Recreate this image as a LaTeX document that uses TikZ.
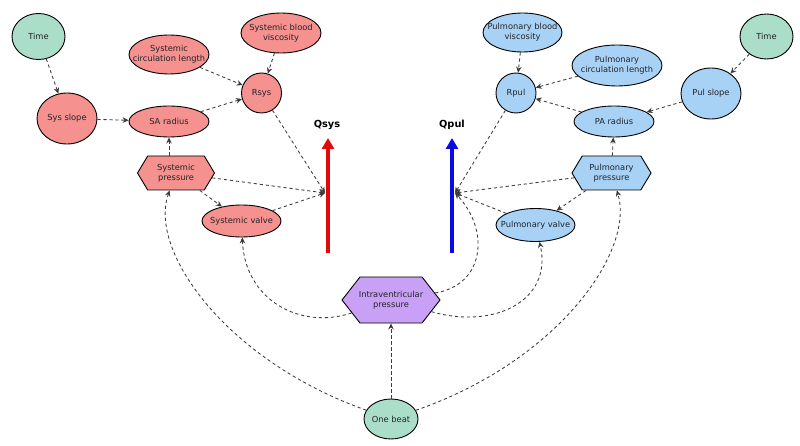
\documentclass[tikz,border=0pt]{standalone}
\usepackage{fontspec}
\setmainfont{DejaVu Sans}
\usetikzlibrary{shapes.geometric,shapes.symbols,arrows.meta}
\definecolor{redfill}{RGB}{245,145,142}
\definecolor{bluefill}{RGB}{168,210,245}
\definecolor{greenfill}{RGB}{170,222,200}
\definecolor{purplefill}{RGB}{200,160,245}
\definecolor{txt}{RGB}{35,35,40}
\definecolor{dline}{RGB}{60,60,60}
\definecolor{qred}{RGB}{225,10,10}
\definecolor{qblue}{RGB}{10,10,225}
\tikzset{
  base/.style={draw=black, line width=0.9pt, inner sep=0pt},
  ell/.style={base, ellipse},
  hexa/.style={base, signal, signal to=west and east},
  ttext/.style={path picture={\node[text=txt, font=\fontsize{8.3}{9.8}\selectfont,
    align=center, inner sep=0pt] at (path picture bounding box.center) {#1};}},
  rnode/.style={fill=redfill},
  bnode/.style={fill=bluefill},
  gnode/.style={fill=greenfill},
  dep/.style={draw=dline, dashed, dash pattern=on 3.2pt off 2.8pt, line width=0.85pt,
    -{Stealth[length=6pt,width=5.5pt,inset=2pt]}},
  qarrow/.style={line width=3.4pt, -{Triangle[length=11pt,width=12pt]}},
  qlabel/.style={font=\bfseries\fontsize{9.8}{11}\selectfont, text=black}
}
\begin{document}
\begin{tikzpicture}[x=1pt,y=-1pt]
\useasboundingbox (0,0) rectangle (800,446);
\fill[white] (0,0) rectangle (800,446);
% left side
\node[ell,gnode,minimum width=53pt,minimum height=46pt,ttext={Time}] (tl) at (38.5,36.5) {};
\node[ell,rnode,minimum width=80pt,minimum height=39pt,ttext={Systemic\\circulation length}] (scl) at (169,54.5) {};
\node[ell,rnode,minimum width=80pt,minimum height=40pt,ttext={Systemic blood\\viscosity}] (sbv) at (281,33) {};
\node[ell,rnode,minimum width=40pt,minimum height=40pt,ttext={Rsys}] (rsys) at (261.5,93) {};
\node[ell,rnode,minimum width=60pt,minimum height=51pt,ttext={Sys slope}] (ss) at (67,118.5) {};
\node[ell,rnode,minimum width=80pt,minimum height=31pt,ttext={SA radius}] (sar) at (169,121.5) {};
\node[hexa,rnode,minimum width=77pt,minimum height=34pt,signal pointer angle=118,ttext={Systemic\\pressure}] (sp) at (176,173) {};
\node[ell,rnode,minimum width=79pt,minimum height=32pt,ttext={Systemic valve}] (sv) at (241.5,221) {};
% right side
\node[ell,bnode,minimum width=79pt,minimum height=39pt,ttext={Pulmonary blood\\viscosity}] (pbv) at (522.5,32.5) {};
\node[ell,bnode,minimum width=90pt,minimum height=41pt,ttext={Pulmonary\\circulation length}] (pcl) at (617,65.5) {};
\node[ell,gnode,minimum width=53pt,minimum height=45pt,ttext={Time}] (tr) at (766.5,36.5) {};
\node[ell,bnode,minimum width=40pt,minimum height=40pt,ttext={Rpul}] (rpul) at (516,93) {};
\node[ell,bnode,minimum width=60pt,minimum height=51pt,ttext={Pul slope}] (ps) at (711,93.5) {};
\node[ell,bnode,minimum width=80pt,minimum height=31pt,ttext={PA radius}] (par) at (614,121.5) {};
\node[hexa,bnode,minimum width=79pt,minimum height=34pt,signal pointer angle=118,ttext={Pulmonary\\pressure}] (pp) at (611.5,173) {};
\node[ell,bnode,minimum width=79pt,minimum height=33pt,ttext={Pulmonary valve}] (pv) at (535.5,225) {};
% bottom
\node[hexa,fill=purplefill,minimum width=98pt,minimum height=46pt,signal pointer angle=104,ttext={Intraventricular\\pressure}] (ivp) at (391,300) {};
\node[ell,gnode,minimum width=54pt,minimum height=40pt,ttext={One beat}] (ob) at (391,419) {};
% flow arrows
\coordinate (qsb) at (328,253);
\coordinate (qst) at (328,138);
\coordinate (qpb) at (452,253);
\coordinate (qpt) at (452,138);
\draw[qarrow,qred] (qsb) -- (qst);
\draw[qarrow,qblue] (qpb) -- (qpt);
\node[qlabel] (lqs) at (327,125) {Qsys};
\node[qlabel] (lqp) at (452,125) {Qpul};
\coordinate (qs) at (325,193);
\coordinate (qp) at (455,193);
% left connectors
\draw[dep] (tl) -- (ss);
\draw[dep] (ss) -- (sar);
\draw[dep] (scl) -- (rsys);
\draw[dep] (sbv) -- (rsys);
\draw[dep] (sar) -- (rsys);
\draw[dep] (sp.north -| sar.south) -- (sar);
\draw[dep] (sp) -- (sv);
\draw[dep] (sp) -- (qs);
\draw[dep] (sv) -- (qs);
\draw[dep] (rsys) -- (qs);
% right connectors
\draw[dep] (tr) -- (ps);
\draw[dep] (ps) -- (par);
\draw[dep] (pcl) -- (rpul);
\draw[dep] (pbv) -- (rpul);
\draw[dep] (par) -- (rpul);
\draw[dep] (pp) -- (par);
\draw[dep] (pp) -- (pv);
\draw[dep] (pp) -- (qp);
\draw[dep] (pv) -- (qp);
\draw[dep] (rpul) -- (qp);
% bottom connectors
\draw[dep] (ob) -- (ivp);
\draw[dep] (ob) .. controls (225,360) and (148,250) .. (sp);
\draw[dep] (ob) .. controls (560,360) and (635,250) .. (pp);
\draw[dep] (ivp) .. controls (300,330) and (245,300) .. (sv);
\draw[dep] (ivp) .. controls (495,330) and (553,300) .. (pv);
\draw[dep] (ivp) .. controls (485,285) and (490,230) .. (qp);
\end{tikzpicture}
\end{document}
